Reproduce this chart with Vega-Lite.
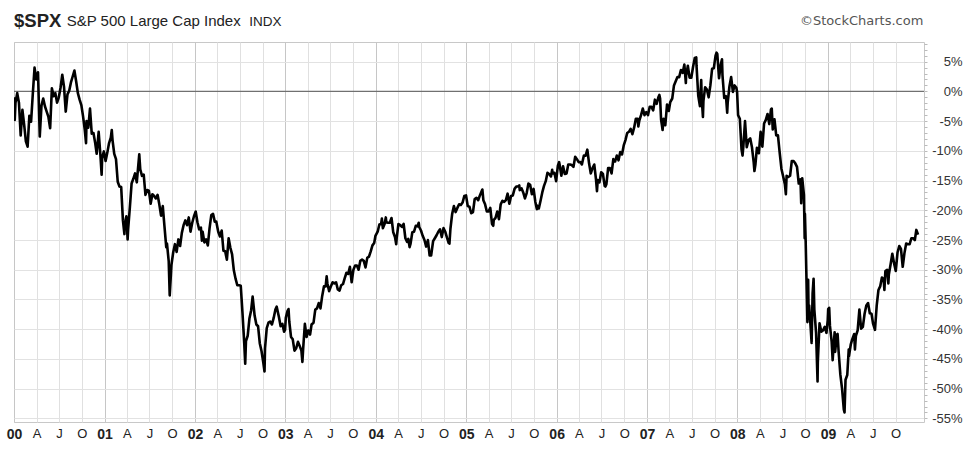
{
"$schema": "https://vega.github.io/schema/vega-lite/v6.json",
"width": 910,
"height": 380,
"autosize": {"type": "none"},
"padding": {"left": 14, "top": 42, "right": 51, "bottom": 27},
"background": "white",
"config": {"view": {"stroke": "#c8c8c8", "strokeWidth": 1}, "font": "Liberation Sans"},
"layer": [
{
"data": {"values": [{}]},
"mark": {"type": "rule", "color": "#707070", "strokeWidth": 1.3},
"encoding": {"y": {"datum": 0, "type": "quantitative"}}
},
{
"data": {"values": [
{"d":"2000-01-03","v":-1.0},{"d":"2000-01-04","v":-4.8},{"d":"2000-01-07","v":-1.9},{"d":"2000-01-14","v":-0.3},{"d":"2000-01-21","v":-1.9},{"d":"2000-01-28","v":-7.4},
{"d":"2000-02-04","v":-3.1},{"d":"2000-02-11","v":-5.6},{"d":"2000-02-18","v":-8.4},{"d":"2000-02-25","v":-9.3},{"d":"2000-03-03","v":-4.1},{"d":"2000-03-10","v":-5.1},
{"d":"2000-03-17","v":-0.4},{"d":"2000-03-24","v":4.0},{"d":"2000-03-31","v":2.0},{"d":"2000-04-07","v":3.2},{"d":"2000-04-14","v":-7.6},{"d":"2000-04-21","v":-2.4},
{"d":"2000-04-28","v":-1.2},{"d":"2000-05-05","v":-2.5},{"d":"2000-05-12","v":-3.4},{"d":"2000-05-19","v":-4.3},{"d":"2000-05-26","v":-6.2},{"d":"2000-06-02","v":0.5},
{"d":"2000-06-09","v":-0.8},{"d":"2000-06-16","v":-0.3},{"d":"2000-06-23","v":-1.9},{"d":"2000-06-30","v":-1.0},{"d":"2000-07-07","v":0.6},{"d":"2000-07-14","v":2.8},
{"d":"2000-07-21","v":0.8},{"d":"2000-07-28","v":-3.4},{"d":"2000-08-04","v":-0.5},{"d":"2000-08-11","v":0.1},{"d":"2000-08-18","v":1.5},{"d":"2000-08-25","v":2.5},
{"d":"2000-09-01","v":3.5},{"d":"2000-09-08","v":1.7},{"d":"2000-09-15","v":-0.3},{"d":"2000-09-22","v":-1.4},{"d":"2000-09-29","v":-2.3},{"d":"2000-10-06","v":-4.2},
{"d":"2000-10-13","v":-6.5},{"d":"2000-10-18","v":-8.7},{"d":"2000-10-20","v":-5.0},{"d":"2000-10-27","v":-6.1},{"d":"2000-11-03","v":-2.9},{"d":"2000-11-10","v":-7.1},
{"d":"2000-11-17","v":-7.0},{"d":"2000-11-24","v":-8.7},{"d":"2000-11-30","v":-10.5},{"d":"2000-12-08","v":-6.8},{"d":"2000-12-15","v":-10.7},{"d":"2000-12-20","v":-14.0},
{"d":"2000-12-22","v":-11.2},{"d":"2000-12-29","v":-10.1},
{"d":"2001-01-05","v":-11.7},{"d":"2001-01-12","v":-10.3},{"d":"2001-01-19","v":-8.7},{"d":"2001-01-26","v":-7.8},{"d":"2001-01-30","v":-6.5},{"d":"2001-02-02","v":-8.2},
{"d":"2001-02-09","v":-10.5},{"d":"2001-02-16","v":-11.4},{"d":"2001-02-23","v":-15.2},{"d":"2001-03-02","v":-16.0},{"d":"2001-03-09","v":-16.1},{"d":"2001-03-16","v":-21.7},
{"d":"2001-03-22","v":-24.0},{"d":"2001-03-23","v":-22.5},{"d":"2001-03-30","v":-21.0},{"d":"2001-04-04","v":-24.9},{"d":"2001-04-06","v":-23.2},{"d":"2001-04-13","v":-19.5},
{"d":"2001-04-20","v":-15.5},{"d":"2001-04-27","v":-14.7},{"d":"2001-05-04","v":-13.8},{"d":"2001-05-11","v":-15.3},{"d":"2001-05-21","v":-10.6},{"d":"2001-05-25","v":-13.1},
{"d":"2001-06-01","v":-14.2},{"d":"2001-06-08","v":-14.0},{"d":"2001-06-15","v":-17.4},{"d":"2001-06-22","v":-16.6},{"d":"2001-06-29","v":-16.7},{"d":"2001-07-06","v":-18.9},
{"d":"2001-07-13","v":-17.3},{"d":"2001-07-20","v":-17.6},{"d":"2001-07-27","v":-18.0},{"d":"2001-08-03","v":-17.4},{"d":"2001-08-10","v":-19.0},{"d":"2001-08-17","v":-20.9},
{"d":"2001-08-24","v":-19.3},{"d":"2001-08-31","v":-22.8},{"d":"2001-09-07","v":-26.2},{"d":"2001-09-10","v":-25.6},{"d":"2001-09-17","v":-28.6},{"d":"2001-09-21","v":-34.3},
{"d":"2001-09-28","v":-29.2},{"d":"2001-10-05","v":-27.1},{"d":"2001-10-12","v":-25.7},{"d":"2001-10-19","v":-27.0},{"d":"2001-10-26","v":-24.9},{"d":"2001-11-02","v":-26.0},
{"d":"2001-11-09","v":-23.8},{"d":"2001-11-16","v":-22.5},{"d":"2001-11-23","v":-21.7},{"d":"2001-11-30","v":-22.5},{"d":"2001-12-07","v":-21.2},{"d":"2001-12-14","v":-23.6},
{"d":"2001-12-21","v":-22.1},{"d":"2001-12-28","v":-21.0},
{"d":"2002-01-04","v":-20.2},{"d":"2002-01-11","v":-22.0},{"d":"2002-01-18","v":-23.2},{"d":"2002-01-25","v":-22.9},{"d":"2002-01-29","v":-25.1},{"d":"2002-02-01","v":-23.6},
{"d":"2002-02-08","v":-25.4},{"d":"2002-02-15","v":-24.9},{"d":"2002-02-22","v":-25.9},{"d":"2002-03-01","v":-23.0},{"d":"2002-03-08","v":-20.8},{"d":"2002-03-15","v":-20.6},
{"d":"2002-03-22","v":-21.9},{"d":"2002-03-28","v":-21.9},{"d":"2002-04-05","v":-23.6},{"d":"2002-04-12","v":-24.4},{"d":"2002-04-19","v":-23.4},{"d":"2002-04-26","v":-26.8},
{"d":"2002-05-03","v":-26.9},{"d":"2002-05-10","v":-28.3},{"d":"2002-05-17","v":-24.7},{"d":"2002-05-24","v":-26.3},{"d":"2002-05-31","v":-27.4},{"d":"2002-06-07","v":-30.1},
{"d":"2002-06-14","v":-31.5},{"d":"2002-06-21","v":-32.6},{"d":"2002-06-28","v":-32.6},{"d":"2002-07-05","v":-32.7},{"d":"2002-07-12","v":-37.3},{"d":"2002-07-19","v":-42.3},
{"d":"2002-07-23","v":-45.8},{"d":"2002-07-26","v":-42.0},{"d":"2002-08-02","v":-41.1},{"d":"2002-08-09","v":-38.2},{"d":"2002-08-16","v":-36.8},{"d":"2002-08-22","v":-34.5},
{"d":"2002-08-30","v":-37.7},{"d":"2002-09-06","v":-39.2},{"d":"2002-09-13","v":-39.5},{"d":"2002-09-20","v":-42.4},{"d":"2002-09-27","v":-43.7},{"d":"2002-10-04","v":-45.6},
{"d":"2002-10-09","v":-47.1},{"d":"2002-10-11","v":-43.2},{"d":"2002-10-18","v":-39.8},{"d":"2002-10-25","v":-38.9},{"d":"2002-11-01","v":-38.7},{"d":"2002-11-08","v":-39.2},
{"d":"2002-11-15","v":-38.1},{"d":"2002-11-22","v":-36.7},{"d":"2002-11-27","v":-36.2},{"d":"2002-12-06","v":-37.9},{"d":"2002-12-13","v":-39.5},{"d":"2002-12-20","v":-39.1},
{"d":"2002-12-27","v":-40.4},{"d":"2002-12-31","v":-40.1},
{"d":"2003-01-03","v":-38.1},{"d":"2003-01-10","v":-36.9},{"d":"2003-01-14","v":-36.6},{"d":"2003-01-17","v":-38.7},{"d":"2003-01-24","v":-41.3},{"d":"2003-01-31","v":-41.7},
{"d":"2003-02-07","v":-43.6},{"d":"2003-02-14","v":-43.2},{"d":"2003-02-21","v":-42.1},{"d":"2003-02-28","v":-42.8},{"d":"2003-03-07","v":-43.6},{"d":"2003-03-11","v":-45.5},
{"d":"2003-03-14","v":-43.3},{"d":"2003-03-21","v":-39.1},{"d":"2003-03-28","v":-41.3},{"d":"2003-04-04","v":-40.2},{"d":"2003-04-11","v":-40.9},{"d":"2003-04-17","v":-39.2},
{"d":"2003-04-25","v":-38.9},{"d":"2003-05-02","v":-36.7},{"d":"2003-05-09","v":-36.5},{"d":"2003-05-16","v":-35.6},{"d":"2003-05-23","v":-36.5},{"d":"2003-05-30","v":-34.4},
{"d":"2003-06-06","v":-32.8},{"d":"2003-06-13","v":-32.8},{"d":"2003-06-17","v":-31.1},{"d":"2003-06-20","v":-32.3},{"d":"2003-06-27","v":-33.6},{"d":"2003-07-03","v":-32.9},
{"d":"2003-07-11","v":-32.1},{"d":"2003-07-18","v":-32.3},{"d":"2003-07-25","v":-32.1},{"d":"2003-08-01","v":-33.3},{"d":"2003-08-08","v":-33.5},{"d":"2003-08-15","v":-32.6},
{"d":"2003-08-22","v":-32.4},{"d":"2003-08-29","v":-31.4},{"d":"2003-09-05","v":-30.5},{"d":"2003-09-12","v":-30.7},{"d":"2003-09-19","v":-29.5},{"d":"2003-09-26","v":-32.1},
{"d":"2003-10-03","v":-30.0},{"d":"2003-10-10","v":-29.3},{"d":"2003-10-17","v":-29.3},{"d":"2003-10-24","v":-30.0},{"d":"2003-10-31","v":-28.5},{"d":"2003-11-07","v":-28.3},
{"d":"2003-11-14","v":-28.5},{"d":"2003-11-21","v":-29.6},{"d":"2003-11-28","v":-28.0},{"d":"2003-12-05","v":-27.8},{"d":"2003-12-12","v":-26.9},{"d":"2003-12-19","v":-25.9},
{"d":"2003-12-26","v":-25.5},{"d":"2003-12-31","v":-24.3},
{"d":"2004-01-09","v":-23.6},{"d":"2004-01-16","v":-22.4},{"d":"2004-01-23","v":-22.3},{"d":"2004-01-26","v":-21.4},{"d":"2004-01-30","v":-23.0},{"d":"2004-02-06","v":-22.3},
{"d":"2004-02-11","v":-21.2},{"d":"2004-02-13","v":-22.0},{"d":"2004-02-20","v":-22.1},{"d":"2004-02-27","v":-22.1},{"d":"2004-03-05","v":-21.3},{"d":"2004-03-12","v":-23.7},
{"d":"2004-03-19","v":-24.5},{"d":"2004-03-24","v":-25.7},{"d":"2004-03-26","v":-24.6},{"d":"2004-04-02","v":-22.3},{"d":"2004-04-09","v":-22.5},{"d":"2004-04-16","v":-22.8},
{"d":"2004-04-23","v":-22.3},{"d":"2004-04-30","v":-24.7},{"d":"2004-05-07","v":-25.3},{"d":"2004-05-12","v":-24.8},{"d":"2004-05-17","v":-26.2},{"d":"2004-05-21","v":-25.6},
{"d":"2004-05-28","v":-23.7},{"d":"2004-06-04","v":-23.6},{"d":"2004-06-11","v":-22.6},{"d":"2004-06-18","v":-22.7},{"d":"2004-06-23","v":-22.1},{"d":"2004-06-25","v":-22.8},
{"d":"2004-07-02","v":-23.4},{"d":"2004-07-09","v":-24.3},{"d":"2004-07-16","v":-25.0},{"d":"2004-07-23","v":-26.1},{"d":"2004-07-30","v":-25.0},{"d":"2004-08-06","v":-27.6},
{"d":"2004-08-12","v":-27.6},{"d":"2004-08-20","v":-25.2},{"d":"2004-08-27","v":-24.7},{"d":"2004-09-03","v":-24.2},{"d":"2004-09-10","v":-23.6},{"d":"2004-09-17","v":-23.2},
{"d":"2004-09-24","v":-24.5},{"d":"2004-10-01","v":-23.0},{"d":"2004-10-08","v":-23.6},{"d":"2004-10-15","v":-24.6},{"d":"2004-10-22","v":-25.5},{"d":"2004-10-25","v":-25.6},
{"d":"2004-10-29","v":-23.1},{"d":"2004-11-05","v":-20.6},{"d":"2004-11-12","v":-19.3},{"d":"2004-11-19","v":-20.3},{"d":"2004-11-26","v":-19.6},{"d":"2004-12-03","v":-19.0},
{"d":"2004-12-10","v":-19.1},{"d":"2004-12-17","v":-18.7},{"d":"2004-12-24","v":-17.6},{"d":"2004-12-31","v":-17.5},
{"d":"2005-01-07","v":-19.3},{"d":"2005-01-14","v":-19.4},{"d":"2005-01-21","v":-20.5},{"d":"2005-01-28","v":-20.3},{"d":"2005-02-04","v":-18.1},{"d":"2005-02-11","v":-17.9},
{"d":"2005-02-18","v":-18.3},{"d":"2005-02-25","v":-17.5},{"d":"2005-03-04","v":-16.8},{"d":"2005-03-07","v":-16.5},{"d":"2005-03-11","v":-18.3},{"d":"2005-03-18","v":-19.0},
{"d":"2005-03-25","v":-20.2},{"d":"2005-04-01","v":-20.2},{"d":"2005-04-08","v":-19.6},{"d":"2005-04-15","v":-22.3},{"d":"2005-04-20","v":-22.6},{"d":"2005-04-22","v":-21.6},
{"d":"2005-04-29","v":-21.3},{"d":"2005-05-06","v":-20.2},{"d":"2005-05-13","v":-21.5},{"d":"2005-05-20","v":-19.0},{"d":"2005-05-27","v":-18.4},{"d":"2005-06-03","v":-18.6},
{"d":"2005-06-10","v":-18.3},{"d":"2005-06-17","v":-17.2},{"d":"2005-06-24","v":-18.9},{"d":"2005-07-01","v":-17.6},{"d":"2005-07-08","v":-17.5},{"d":"2005-07-15","v":-16.4},
{"d":"2005-07-22","v":-16.0},{"d":"2005-07-29","v":-16.0},{"d":"2005-08-03","v":-15.8},{"d":"2005-08-05","v":-16.6},{"d":"2005-08-12","v":-16.3},{"d":"2005-08-19","v":-17.0},
{"d":"2005-08-26","v":-18.0},{"d":"2005-09-02","v":-17.1},{"d":"2005-09-09","v":-15.5},{"d":"2005-09-16","v":-15.7},{"d":"2005-09-23","v":-17.3},{"d":"2005-09-30","v":-16.4},
{"d":"2005-10-07","v":-18.6},{"d":"2005-10-13","v":-19.8},{"d":"2005-10-14","v":-19.2},{"d":"2005-10-21","v":-19.7},{"d":"2005-10-28","v":-18.4},{"d":"2005-11-04","v":-17.0},
{"d":"2005-11-11","v":-15.9},{"d":"2005-11-18","v":-15.1},{"d":"2005-11-25","v":-13.7},{"d":"2005-12-02","v":-13.9},{"d":"2005-12-09","v":-14.3},{"d":"2005-12-14","v":-13.2},
{"d":"2005-12-16","v":-13.8},{"d":"2005-12-23","v":-13.7},{"d":"2005-12-30","v":-15.1},
{"d":"2006-01-06","v":-12.5},{"d":"2006-01-11","v":-11.9},{"d":"2006-01-13","v":-12.3},{"d":"2006-01-20","v":-14.2},{"d":"2006-01-27","v":-12.6},{"d":"2006-02-03","v":-13.9},
{"d":"2006-02-10","v":-13.8},{"d":"2006-02-17","v":-12.3},{"d":"2006-02-24","v":-12.3},{"d":"2006-03-03","v":-12.4},{"d":"2006-03-10","v":-12.7},{"d":"2006-03-17","v":-11.0},
{"d":"2006-03-24","v":-11.4},{"d":"2006-03-31","v":-11.9},{"d":"2006-04-07","v":-11.9},{"d":"2006-04-13","v":-12.3},{"d":"2006-04-21","v":-10.8},{"d":"2006-04-28","v":-10.8},
{"d":"2006-05-05","v":-9.8},{"d":"2006-05-12","v":-12.1},{"d":"2006-05-19","v":-13.8},{"d":"2006-05-26","v":-12.9},{"d":"2006-06-02","v":-12.3},{"d":"2006-06-09","v":-14.8},
{"d":"2006-06-13","v":-16.8},{"d":"2006-06-16","v":-14.9},{"d":"2006-06-23","v":-15.3},{"d":"2006-06-30","v":-13.6},{"d":"2006-07-07","v":-13.9},{"d":"2006-07-14","v":-15.9},
{"d":"2006-07-17","v":-16.0},{"d":"2006-07-21","v":-15.6},{"d":"2006-07-28","v":-12.9},{"d":"2006-08-04","v":-12.9},{"d":"2006-08-11","v":-13.8},{"d":"2006-08-18","v":-11.4},
{"d":"2006-08-25","v":-11.8},{"d":"2006-09-01","v":-10.8},{"d":"2006-09-08","v":-11.6},{"d":"2006-09-15","v":-10.2},{"d":"2006-09-22","v":-10.6},{"d":"2006-09-29","v":-9.1},
{"d":"2006-10-06","v":-8.2},{"d":"2006-10-13","v":-7.0},{"d":"2006-10-20","v":-6.8},{"d":"2006-10-27","v":-6.3},{"d":"2006-11-03","v":-7.2},{"d":"2006-11-10","v":-6.1},
{"d":"2006-11-17","v":-4.6},{"d":"2006-11-24","v":-4.6},{"d":"2006-11-27","v":-5.9},{"d":"2006-12-01","v":-4.9},{"d":"2006-12-08","v":-4.0},{"d":"2006-12-15","v":-2.9},
{"d":"2006-12-22","v":-4.0},{"d":"2006-12-29","v":-3.5},
{"d":"2007-01-05","v":-4.0},{"d":"2007-01-12","v":-2.6},{"d":"2007-01-19","v":-2.6},{"d":"2007-01-26","v":-3.2},{"d":"2007-02-02","v":-1.4},{"d":"2007-02-09","v":-2.1},
{"d":"2007-02-16","v":-1.0},{"d":"2007-02-20","v":-0.6},{"d":"2007-02-23","v":-1.2},{"d":"2007-02-27","v":-4.8},{"d":"2007-03-02","v":-5.6},{"d":"2007-03-05","v":-6.5},
{"d":"2007-03-09","v":-4.6},{"d":"2007-03-14","v":-5.5},{"d":"2007-03-16","v":-5.7},{"d":"2007-03-23","v":-2.2},{"d":"2007-03-30","v":-3.3},{"d":"2007-04-05","v":-1.8},
{"d":"2007-04-13","v":-1.2},{"d":"2007-04-20","v":1.0},{"d":"2007-04-27","v":1.7},{"d":"2007-05-04","v":2.4},{"d":"2007-05-11","v":2.4},{"d":"2007-05-18","v":3.6},
{"d":"2007-05-25","v":3.1},{"d":"2007-06-01","v":4.5},{"d":"2007-06-07","v":1.4},{"d":"2007-06-08","v":2.6},{"d":"2007-06-15","v":4.3},{"d":"2007-06-22","v":2.3},
{"d":"2007-06-29","v":2.3},{"d":"2007-07-06","v":4.1},{"d":"2007-07-13","v":5.6},{"d":"2007-07-19","v":5.7},{"d":"2007-07-20","v":4.4},{"d":"2007-07-27","v":-0.7},
{"d":"2007-08-03","v":-2.5},{"d":"2007-08-08","v":1.9},{"d":"2007-08-10","v":-1.1},{"d":"2007-08-15","v":-4.3},{"d":"2007-08-17","v":-1.6},{"d":"2007-08-24","v":0.7},
{"d":"2007-08-31","v":0.3},{"d":"2007-09-07","v":-1.0},{"d":"2007-09-14","v":1.0},{"d":"2007-09-21","v":3.8},{"d":"2007-09-28","v":3.9},{"d":"2007-10-05","v":6.0},
{"d":"2007-10-09","v":6.5},{"d":"2007-10-12","v":6.3},{"d":"2007-10-19","v":2.2},{"d":"2007-10-26","v":4.5},{"d":"2007-10-31","v":5.4},{"d":"2007-11-02","v":2.7},
{"d":"2007-11-09","v":-1.1},{"d":"2007-11-16","v":-0.8},{"d":"2007-11-21","v":-3.6},{"d":"2007-11-23","v":-1.9},{"d":"2007-11-30","v":0.8},{"d":"2007-12-07","v":2.4},
{"d":"2007-12-14","v":-0.1},{"d":"2007-12-21","v":1.0},{"d":"2007-12-28","v":0.6},{"d":"2007-12-31","v":-0.1},
{"d":"2008-01-04","v":-4.0},{"d":"2008-01-11","v":-4.6},{"d":"2008-01-18","v":-9.8},{"d":"2008-01-22","v":-10.8},{"d":"2008-01-25","v":-9.4},{"d":"2008-02-01","v":-5.0},
{"d":"2008-02-08","v":-9.4},{"d":"2008-02-15","v":-8.2},{"d":"2008-02-22","v":-7.9},{"d":"2008-02-29","v":-9.4},{"d":"2008-03-07","v":-11.9},{"d":"2008-03-10","v":-13.4},
{"d":"2008-03-14","v":-12.3},{"d":"2008-03-20","v":-9.5},{"d":"2008-03-28","v":-10.4},{"d":"2008-04-04","v":-6.8},{"d":"2008-04-11","v":-9.3},{"d":"2008-04-18","v":-5.4},
{"d":"2008-04-25","v":-4.8},{"d":"2008-05-02","v":-3.8},{"d":"2008-05-09","v":-5.5},{"d":"2008-05-16","v":-3.0},{"d":"2008-05-19","v":-2.9},{"d":"2008-05-23","v":-6.4},
{"d":"2008-05-30","v":-4.7},{"d":"2008-06-06","v":-7.4},{"d":"2008-06-13","v":-7.4},{"d":"2008-06-20","v":-10.3},{"d":"2008-06-27","v":-13.0},{"d":"2008-07-03","v":-14.1},
{"d":"2008-07-11","v":-15.6},{"d":"2008-07-15","v":-17.3},{"d":"2008-07-18","v":-14.2},{"d":"2008-07-25","v":-14.4},{"d":"2008-08-01","v":-14.2},{"d":"2008-08-08","v":-11.7},
{"d":"2008-08-15","v":-11.7},{"d":"2008-08-22","v":-12.1},{"d":"2008-08-29","v":-12.7},{"d":"2008-09-05","v":-15.5},{"d":"2008-09-12","v":-14.8},{"d":"2008-09-15","v":-18.8},
{"d":"2008-09-19","v":-14.6},{"d":"2008-09-26","v":-17.4},{"d":"2008-09-29","v":-24.7},{"d":"2008-09-30","v":-20.6},{"d":"2008-10-03","v":-25.2},{"d":"2008-10-10","v":-38.8},
{"d":"2008-10-13","v":-31.7},{"d":"2008-10-15","v":-38.2},{"d":"2008-10-17","v":-36.0},{"d":"2008-10-24","v":-40.3},{"d":"2008-10-27","v":-42.3},{"d":"2008-10-31","v":-34.0},
{"d":"2008-11-04","v":-31.5},{"d":"2008-11-07","v":-36.7},{"d":"2008-11-14","v":-40.6},{"d":"2008-11-20","v":-48.8},{"d":"2008-11-21","v":-45.6},{"d":"2008-11-28","v":-39.0},
{"d":"2008-12-05","v":-40.4},{"d":"2008-12-12","v":-40.2},{"d":"2008-12-19","v":-39.6},{"d":"2008-12-26","v":-40.6},{"d":"2008-12-31","v":-38.5},
{"d":"2009-01-02","v":-36.6},{"d":"2009-01-06","v":-36.4},{"d":"2009-01-09","v":-39.4},{"d":"2009-01-16","v":-42.1},{"d":"2009-01-20","v":-45.2},{"d":"2009-01-23","v":-43.4},
{"d":"2009-01-28","v":-40.5},{"d":"2009-01-30","v":-43.8},{"d":"2009-02-06","v":-40.9},{"d":"2009-02-09","v":-40.8},{"d":"2009-02-13","v":-43.7},{"d":"2009-02-20","v":-47.6},
{"d":"2009-02-27","v":-50.0},{"d":"2009-03-06","v":-53.5},{"d":"2009-03-09","v":-54.0},{"d":"2009-03-13","v":-48.5},{"d":"2009-03-20","v":-47.7},{"d":"2009-03-26","v":-43.4},
{"d":"2009-03-27","v":-44.5},{"d":"2009-04-03","v":-42.6},{"d":"2009-04-09","v":-41.7},{"d":"2009-04-17","v":-40.8},{"d":"2009-04-20","v":-43.4},{"d":"2009-04-24","v":-41.1},
{"d":"2009-05-01","v":-40.2},{"d":"2009-05-08","v":-36.7},{"d":"2009-05-15","v":-39.9},{"d":"2009-05-22","v":-39.6},{"d":"2009-05-29","v":-37.4},{"d":"2009-06-05","v":-36.0},
{"d":"2009-06-12","v":-35.6},{"d":"2009-06-19","v":-37.3},{"d":"2009-06-26","v":-37.4},{"d":"2009-07-02","v":-39.0},{"d":"2009-07-10","v":-40.1},{"d":"2009-07-17","v":-36.0},
{"d":"2009-07-24","v":-33.4},{"d":"2009-07-31","v":-32.8},{"d":"2009-08-07","v":-31.3},{"d":"2009-08-14","v":-31.6},{"d":"2009-08-17","v":-33.4},{"d":"2009-08-21","v":-30.2},
{"d":"2009-08-28","v":-30.0},{"d":"2009-09-02","v":-32.3},{"d":"2009-09-04","v":-30.8},{"d":"2009-09-11","v":-29.1},{"d":"2009-09-18","v":-27.3},{"d":"2009-09-25","v":-28.9},
{"d":"2009-10-02","v":-30.2},{"d":"2009-10-09","v":-27.1},{"d":"2009-10-16","v":-26.0},{"d":"2009-10-23","v":-26.5},{"d":"2009-10-30","v":-29.5},{"d":"2009-11-06","v":-27.2},
{"d":"2009-11-13","v":-25.6},{"d":"2009-11-20","v":-25.7},{"d":"2009-11-27","v":-25.7},{"d":"2009-12-04","v":-24.7},{"d":"2009-12-11","v":-24.7},{"d":"2009-12-18","v":-25.0},
{"d":"2009-12-24","v":-23.3},{"d":"2009-12-31","v":-24.1}
]},
"mark": {"type": "line", "color": "#000000", "strokeWidth": 2.6, "strokeJoin": "round", "clip": true},
"encoding": {
"x": {"field": "d", "type": "temporal",
"scale": {"type": "utc", "domain": [{"year": 2000, "month": 1, "date": 1, "utc": true}, {"year": 2010, "month": 1, "date": 24, "utc": true}], "nice": false},
"axis": {"title": null, "tickCount": {"interval": "month", "step": 3},
"labelExpr": "utcyear(datum.value) >= 2010 ? '' : (utcmonth(datum.value) === 0 ? utcFormat(datum.value, '%y') : substring(utcFormat(datum.value, '%b'), 0, 1))",
"labelFontWeight": {"condition": {"test": "utcmonth(datum.value) === 0", "value": "bold"}, "value": "normal"},
"labelFontSize": {"condition": {"test": "utcmonth(datum.value) === 0", "value": 14}, "value": 13},
"labelColor": "#222222", "labelPadding": 5, "labelFlush": false, "labelOverlap": false, "labelBound": false,
"ticks": false, "tickSize": 0, "domain": false, "grid": true,
"gridColor": {"condition": {"test": "utcmonth(datum.value) === 0", "value": "#c6c6c6"}, "value": "#e0e0e0"},
"gridOpacity": {"condition": {"test": "utcyear(datum.value) >= 2010", "value": 0}, "value": 1}}},
"y": {"field": "v", "type": "quantitative",
"scale": {"domain": [-55.6, 8.3], "nice": false, "zero": false},
"axis": {"orient": "right", "title": null, "tickCount": 200,
"values": [-55,-54,-53,-52,-51,-50,-49,-48,-47,-46,-45,-44,-43,-42,-41,-40,-39,-38,-37,-36,-35,-34,-33,-32,-31,-30,-29,-28,-27,-26,-25,-24,-23,-22,-21,-20,-19,-18,-17,-16,-15,-14,-13,-12,-11,-10,-9,-8,-7,-6,-5,-4,-3,-2,-1,0,1,2,3,4,5,6,7,8],
"labelExpr": "datum.value % 5 === 0 ? datum.value + '%' : ''",
"labelAlign": "right", "labelBaseline": "middle", "labelPadding": 35, "labelFontSize": 13, "labelColor": "#333333",
"labelOverlap": false, "labelBound": false, "labelFlush": false,
"tickSize": 3, "tickColor": "#bbbbbb", "domain": false, "grid": true, "gridColor": "#e2e2e2",
"gridOpacity": {"condition": {"test": "datum.value % 5 === 0", "value": 1}, "value": 0}}}
}
},
{"data": {"values": [{}]}, "mark": {"type": "text", "text": "$SPX", "x": 0, "y": -15.3, "align": "left", "baseline": "alphabetic", "fontSize": 18.5, "fontWeight": "bold", "font": "Liberation Sans", "color": "#222222"}},
{"data": {"values": [{}]}, "mark": {"type": "text", "text": "S&P 500 Large Cap Index", "x": 52.7, "y": -16, "align": "left", "baseline": "alphabetic", "fontSize": 15, "font": "Liberation Sans", "color": "#222222"}},
{"data": {"values": [{}]}, "mark": {"type": "text", "text": "INDX", "x": 235.3, "y": -16, "align": "left", "baseline": "alphabetic", "fontSize": 13.5, "font": "Liberation Sans", "color": "#222222"}},
{"data": {"values": [{}]}, "mark": {"type": "text", "text": "©StockCharts.com", "x": 909.3, "y": -17, "align": "right", "baseline": "alphabetic", "fontSize": 13, "font": "DejaVu Sans", "color": "#555555"}}
]
}
